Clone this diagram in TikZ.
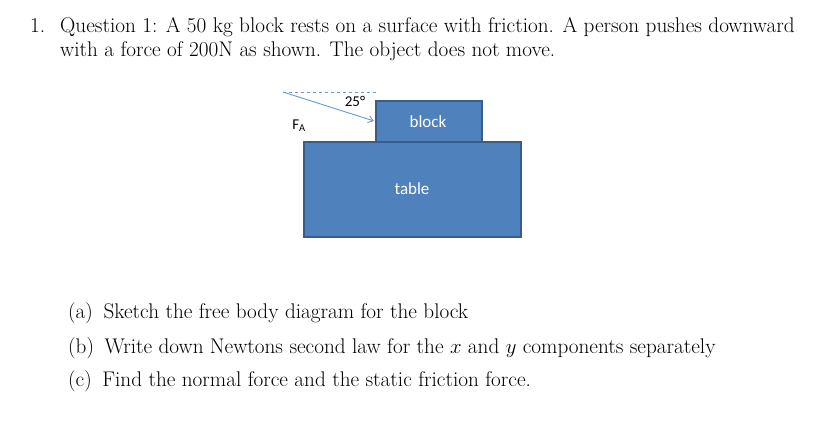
\documentclass[tikz,border=0pt]{standalone}
\usepackage{fontspec}
\newfontfamily\carl{Carlito}
\usetikzlibrary{arrows.meta}
\begin{document}
\begin{tikzpicture}[x=1pt,y=-1pt,
  txt/.style={anchor=base west,inner sep=0pt,font=\fontsize{21.2}{25}\selectfont},
  lbl/.style={font=\carl\fontsize{17}{20}\selectfont,text=white}]
\useasboundingbox (0,0) rectangle (835,430);
\definecolor{boxfill}{RGB}{79,129,189}
\definecolor{boxedge}{RGB}{56,93,138}
\definecolor{arr}{RGB}{110,150,205}
\node[txt] (n1) at (30,33) {1.};
\node[txt] (l1) at (60,33) {Question 1: A 50 kg block rests on a surface with friction. A person pushes downward};
\node[txt] (l2) at (60,57) {with a force of 200N as shown. The object does not move.};
\draw[fill=boxfill,draw=boxedge,line width=1.3pt] (304,142) rectangle (521,237);
\draw[fill=boxfill,draw=boxedge,line width=1.3pt] (376,101) rectangle (482,142);
\node[lbl] (tb) at (412,189) {table};
\node[lbl] (bk) at (428,122) {block};
\coordinate (s) at (283,92);
\coordinate (e) at (378,92);
\coordinate (t) at (374,121);
\draw[arr,dashed,line width=0.8pt] (s) -- (e);
\draw[arr,line width=0.9pt,-{Straight Barb[length=5pt,width=7pt]}] (s) -- (t);
\node[font=\carl\fontsize{15}{17}\selectfont] (ang) at (355,101) {25°};
\node[font=\carl\fontsize{15}{17}\selectfont] (fa) at (299,126) {F\textsubscript{A}};
\node[txt] (a) at (68,319) {(a)\enspace Sketch the free body diagram for the block};
\node[txt] (b) at (68,353) {(b)\enspace Write down Newtons second law for the $x$ and $y$ components separately};
\node[txt] (c) at (68,386) {(c)\enspace Find the normal force and the static friction force.};
\end{tikzpicture}
\end{document}
